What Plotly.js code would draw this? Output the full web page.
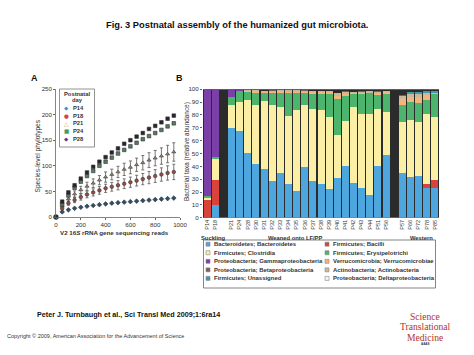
<!DOCTYPE html>
<html><head><meta charset="utf-8">
<script src="https://cdn.plot.ly/plotly-3.0.1.min.js"></script>
<style>html,body{margin:0;padding:0;background:#fff}#chart{width:474px;height:355px}</style>
</head><body><div id="chart"></div>
<script>
// ---------- Panel A data ----------
const reads = [0,50,100,150,200,250,300,350,400,450,500,550,600,650,700,750,800,850,900,950];
const p14 = [0,10,14,17,19,21,22.5,24,25.5,27,28,29,30,31,32,33,34,35,36,37];
const p18 = [0,17,27,33,39,44,48,52,56,59,62,65,68,71,74,77,80,83,86,88];
const p18err = [0,3,4,5,6,6.5,7,7.5,8,8.5,9,9.5,10,10.5,11,12,12.5,13,14,15];
const p21 = [0,22,35,45,53,60,66,72,78,83,88,93,97,102,106,111,115,119,123,127];
const p21err = [0,3,5,6,7,8,8.5,9,10,10.5,11,12,12.5,13,14,14.5,15,16,17,18];
const p24 = [0,25,42,57,69,80,90,100,108,116,124,131,138,145,152,158,164,170,177,183];
const p28 = [0,30,48,62,75,87,98,108,117,126,134,143,150,157,164,172,178,185,192,198];
const ageNames = ['P14','P18','P21','P24','P28'];
const ageColors = ['#4a90c4','#d0483c','#e0904c','#3aa060','#5e3a86'];
const ageMarkColors = ['#2e4f6a','#9a4a44','#a08a78','#5a7a62','#2a2230'];
const ageSymbols = ['diamond','circle','triangle-up','square','square'];
const ageGlyphs = ['\u25C6','\u25CF','\u25B3','\u25A0','\u25C6'];

// ---------- Panel B data ----------
const days = ['P14','P18',' ','P21','P24','P28','P30','P31','P32','P33','P34','P35','P36','P37','P38','P39','P40','P41','P42','P43','P44','P51','P56','  ','P57','P66','P72','P78','P85'];
const bacteroidetes = [0,10,null,70,67.5,50.5,41.5,38,28.5,34.5,26.5,20.5,39.5,28.5,26,22,31,40.5,27,23,17.5,40,49,null,35,32,32.5,23.5,23];
const bacilli       = [14,19,null,0,0,0,0,0,0,0,0,0,0,0,0,0,0,0,0,0,0,0,0,null,0,0,0,2.5,6.5];
const clostridia    = [1.5,16.5,null,18,22.5,41.5,46,53,59.5,51.5,53,63,48,56.5,58,56.5,33.5,34.5,59,58,63.5,45,33.5,null,39.5,44,42,54.5,49];
const erysipelo     = [1.5,1.5,null,6,8.5,6,10,6.5,9.5,11.5,17.5,14,10,11.5,12.5,17.5,28,20,10.5,15.5,16,10.5,14,null,13.5,14,15,11.5,17.5];
const verruco       = [0,0,null,0,0,1,1,0.5,0.5,1,1,0.5,0.5,1.5,1.5,2,2.5,1,0.5,0.5,0.5,1.5,1.5,null,4.5,4,4.5,3.5,0.5];
const actino        = [0,0,null,0,0.5,0.5,1,1,1,1,1.5,1.5,1,1,1,1,2,2,1,1,1,1,1,null,2,2,2,1.5,0.5];
const unassigned    = [0,0,null,0,0,0,0,0,0,0,0,0,0,0,0,0,0,0,0,0,0,0,0,null,0.5,2,2,1.5,1.5];
const betaproteo    = [0,0,null,0,0,0.5,0.5,0,0.5,0,0,0,0.5,0,0,0,0,0.5,0,0.5,0,0.5,0,null,0.5,0,0,0,0];
const gammaproteo   = [83,53,null,6,1,0,0,0,0,0,0,0,0,0,0,0,0,0,0,0,0,0,0,null,0,0,0,0,0];
const deltaproteo   = [0,0,null,0,0,0,0,0,0,0,0,0,0,0,0,0,0,0,0,0,0,0,0,null,0,0,0,0,0];
const taxaNames = ['Bacteroidetes; Bacteroidetes','Firmicutes; Bacilli','Firmicutes; Clostridia','Firmicutes; Erysipelotrichi','Verrucomicrobia; Verrucomicrobiae','Actinobacteria; Actinobacteria','Firmicutes; Unassigned','Proteobacteria; Betaproteobacteria','Proteobacteria; Gammaproteobacteria','Proteobacteria; Deltaproteobacteria'];
const taxaValues = [bacteroidetes,bacilli,clostridia,erysipelo,verruco,actino,unassigned,betaproteo,gammaproteo,deltaproteo];
const taxaColors = ['#4ea6de','#d8433c','#fbefa6','#4cb46c','#f5b57a','#c9b99a','#3a9cb4','#7a5c60','#7a40a8','#f4f4f4'];
const legendLeft = [0,2,8,7,6];
const legendRight = [1,3,4,5,9];
const groups = ['Suckling','Weaned onto LF/PP','Western'];

// ---------- helpers ----------
const W = 474, H = 355;
const px = v => v / W, py = v => 1 - v / H;
const FONT = 'Liberation Sans, Arial, sans-serif';
const TXT = '#333';

const traces = [];
const seriesA = [p14,p18,p21,p24,p28];
const errsA = [null,p18err,p21err,null,null];
seriesA.forEach((s,i)=>{
  const t = {type:'scatter',mode:'markers',x:reads,y:s,xaxis:'x',yaxis:'y',showlegend:false,cliponaxis:false,
    marker:{symbol:ageSymbols[i],size:3.6,color:ageMarkColors[i],line:{color:'#333',width:0.6}}};
  if (errsA[i]) t.error_y = {type:'data',array:errsA[i],visible:true,color:'#555',thickness:0.8,width:1.5};
  traces.push(t);
});
taxaValues.forEach((v,i)=>{
  traces.push({type:'bar',x:days,y:v,xaxis:'x2',yaxis:'y2',name:taxaNames[i],showlegend:false,
    marker:{color:taxaColors[i],line:{width:0}},hoverinfo:'skip'});
});

const ann = [];
const shapes = [];
function A(text,x,y,o){ann.push(Object.assign({text:text,x:px(x),y:py(y),xref:'paper',yref:'paper',showarrow:false,
  font:{family:FONT,size:6,color:TXT},xanchor:'center',yanchor:'middle'},o||{}));}

A('<b>Fig. 3 Postnatal assembly of the humanized gut microbiota.</b>',236.5,25,{font:{family:FONT,size:9.3,color:'#111'}});
A('<b>A</b>',34,78,{font:{family:FONT,size:9,color:'#111'}});
A('<b>B</b>',179,78,{font:{family:FONT,size:9,color:'#111'}});
A('<b>V2 16<i>S</i> rRNA gene sequencing reads</b>',114,232,{font:{family:FONT,size:6.2,color:TXT}});
A('Species-level phylotypes',37.5,156,{textangle:-90,font:{family:FONT,size:6.6,color:TXT}});
A('Bacterial taxa (relative abundance)',187,152,{textangle:-90,font:{family:FONT,size:6.4,color:TXT}});

// legend A
shapes.push({type:'rect',xref:'paper',yref:'paper',x0:px(59.5),x1:px(94.5),y0:py(147),y1:py(89),line:{color:'#777',width:0.8},fillcolor:'rgba(0,0,0,0)'});
A('<b>Postnatal</b>',77,93.5,{font:{family:FONT,size:5.8,color:TXT}});
A('<b>day</b>',77,99.5,{font:{family:FONT,size:5.8,color:TXT}});
ageNames.forEach((n,i)=>{
  const y = 107.7 + i*7.8;
  A(ageGlyphs[i],66.5,y,{font:{family:'DejaVu Sans',size:i==2?6:5.5,color:ageColors[i]}});
  A('<b>'+n+'</b>',71,y,{xanchor:'left',font:{family:FONT,size:5.8,color:TXT}});
});

// B background
shapes.push({type:'rect',xref:'x2 domain',yref:'y2 domain',x0:0,x1:1,y0:0,y1:1,fillcolor:'#2b2b2b',line:{width:0},layer:'below'});

// group labels
A('<b>'+groups[0]+'</b>',213,237.5,{font:{family:FONT,size:5.8,color:TXT}});
A('<b>'+groups[1]+'</b>',295,237.5,{font:{family:FONT,size:5.8,color:TXT}});
A('<b>'+groups[2]+'</b>',421,237.5,{font:{family:FONT,size:5.8,color:TXT}});

// legend B
shapes.push({type:'rect',xref:'paper',yref:'paper',x0:px(203.5),x1:px(435.5),y0:py(288),y1:py(240),line:{color:'#666',width:0.8},fillcolor:'rgba(0,0,0,0)'});
[[legendLeft,206],[legendRight,325]].forEach(([list,x0])=>{
  list.forEach((ti,r)=>{
    const y = 244.2 + r*8.55;
    shapes.push({type:'rect',xref:'paper',yref:'paper',x0:px(x0),x1:px(x0+4),y0:py(y+2),y1:py(y-2),fillcolor:taxaColors[ti],line:{color:'#888',width:0.6}});
    A('<b>'+taxaNames[ti]+'</b>',x0+6,y,{xanchor:'left',font:{family:FONT,size:5.95,color:TXT}});
  });
});

// footer
A('<b>Peter J. Turnbaugh et al., Sci Transl Med 2009;1:6ra14</b>',35,314.5,{xanchor:'left',font:{family:FONT,size:7.2,color:'#111'}});
A('Copyright \u00A9 2009, American Association for the Advancement of Science',5,336,{xanchor:'left',font:{family:FONT,size:5.5,color:'#333'}});
const SERIF = 'Liberation Serif, DejaVu Serif, serif';
A('Science',425,316,{font:{family:SERIF,size:9.6,color:'#b3322c'}});
A('Translational',425,326.5,{font:{family:SERIF,size:9.6,color:'#b3322c'}});
A('Medicine',425,337,{font:{family:SERIF,size:9.6,color:'#b3322c'}});
A('<b>AAAS</b>',425,344,{font:{family:FONT,size:3,color:'#333'}});

const axTick = {family:FONT,size:6.2,color:TXT};
const layout = {
  width:W,height:H,margin:{l:0,r:0,t:0,b:0},paper_bgcolor:'#fff',plot_bgcolor:'rgba(0,0,0,0)',
  showlegend:false,barmode:'stack',bargap:0.14,
  xaxis:{domain:[px(56),px(180)],range:[0,1000],tickvals:[0,200,400,600,800,1000],showgrid:false,zeroline:false,
    showline:true,linecolor:'#666',linewidth:0.8,ticks:'outside',ticklen:2,tickcolor:'#666',tickfont:axTick,anchor:'y'},
  yaxis:{domain:[py(217),py(89)],range:[0,250],tickvals:[0,50,100,150,200,250],showgrid:false,zeroline:false,
    showline:true,linecolor:'#666',linewidth:0.8,ticks:'outside',ticklen:2,tickcolor:'#666',tickfont:axTick,anchor:'x'},
  xaxis2:{domain:[px(203),px(439)],type:'category',categoryorder:'array',categoryarray:days,range:[-0.5,days.length-0.5],
    tickangle:-90,ticks:'',showgrid:false,zeroline:false,showline:false,tickfont:{family:FONT,size:5.6,color:TXT},anchor:'y2'},
  yaxis2:{domain:[py(217.7),py(89.3)],range:[0,100],dtick:10,showgrid:false,zeroline:false,showline:false,
    ticks:'outside',ticklen:2,tickcolor:'#666',tickfont:axTick,anchor:'x2'},
  annotations:ann,shapes:shapes
};
Plotly.newPlot('chart',traces,layout,{staticPlot:true,displayModeBar:false});
</script></body></html>
